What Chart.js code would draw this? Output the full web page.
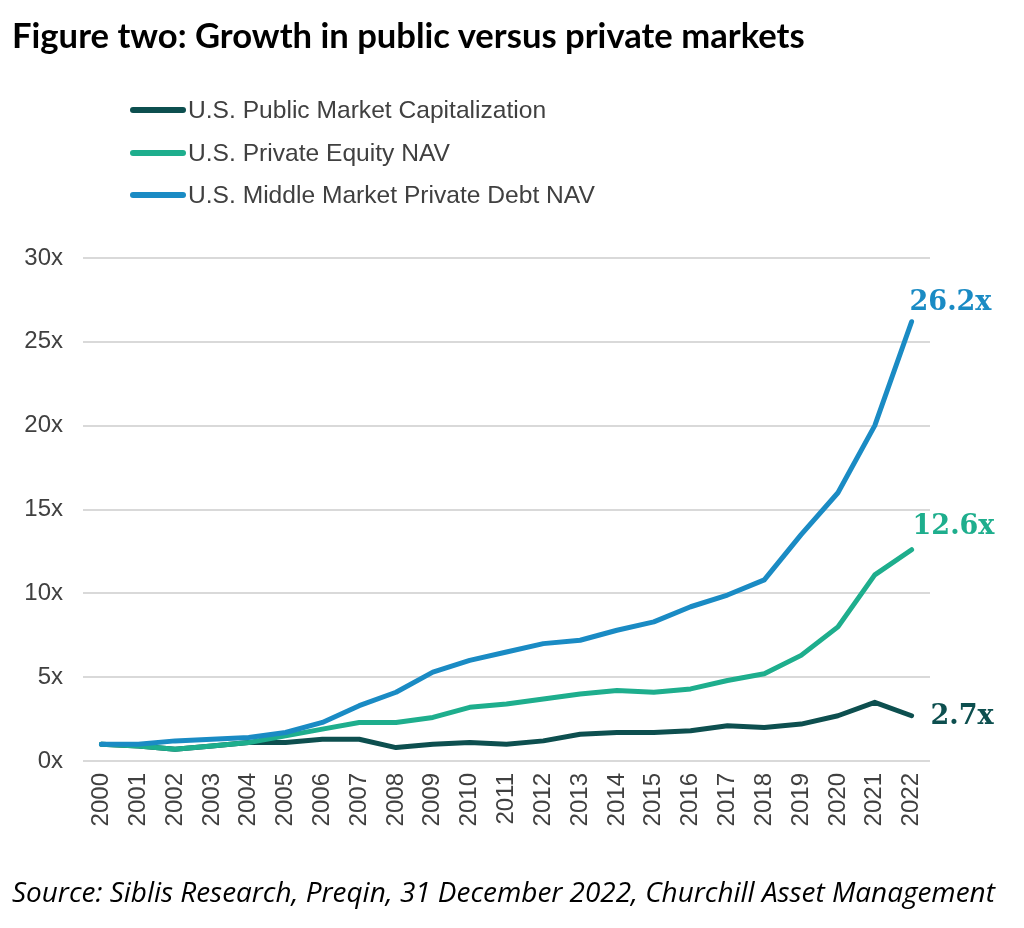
<!DOCTYPE html>
<html>
<head>
<meta charset="utf-8">
<script src="https://cdn.jsdelivr.net/npm/chart.js@4.4.0/dist/chart.umd.min.js"></script>
<style>
  html, body { margin: 0; padding: 0; background: #ffffff; }
  body { width: 1024px; height: 928px; position: relative; overflow: hidden; }
  #title { position: absolute; left: 12px; top: 18px; font-family: Lato, "Open Sans", sans-serif; font-weight: 700; font-size: 29px; color: #000; white-space: nowrap; line-height: 1; }
  #source { position: absolute; left: 12px; top: 878px; font-family: "Open Sans", Lato, sans-serif; font-style: italic; font-size: 25px; color: #000; white-space: nowrap; line-height: 1; }
  #legend { position: absolute; left: 130px; top: 96px; font-family: "Liberation Sans", Arial, sans-serif; font-size: 24.6px; color: #404040; }
  .item { position: relative; height: 42.5px; }
  .swatch { position: absolute; left: 0; top: 11px; width: 56px; height: 6px; border-radius: 3px; }
  .lbl { position: absolute; left: 58px; top: 0; white-space: nowrap; line-height: 28px; }
  #wrap { position: absolute; left: 0; top: 0; width: 1024px; height: 928px; }
</style>
</head>
<body>
<div id="wrap"><canvas id="c" width="1024" height="928"></canvas></div>
<div id="title">Figure two: Growth in public versus private markets</div>
<div id="legend"></div>
<div id="source">Source: Siblis Research, Preqin, 31 December 2022, Churchill Asset Management</div>
<script>
const years = ['2000','2001','2002','2003','2004','2005','2006','2007','2008','2009','2010','2011','2012','2013','2014','2015','2016','2017','2018','2019','2020','2021','2022'];
const seriesNames = ['U.S. Public Market Capitalization', 'U.S. Private Equity NAV', 'U.S. Middle Market Private Debt NAV'];
const publicMarket  = [1.0,0.9,0.7,0.9,1.1,1.1,1.3,1.3,0.8,1.0,1.1,1.0,1.2,1.6,1.7,1.7,1.8,2.1,2.0,2.2,2.7,3.5,2.7];
const privateEquity = [1.0,0.9,0.7,0.9,1.1,1.5,1.9,2.3,2.3,2.6,3.2,3.4,3.7,4.0,4.2,4.1,4.3,4.8,5.2,6.3,8.0,11.1,12.6];
const privateDebt   = [1.0,1.0,1.2,1.3,1.4,1.7,2.3,3.3,4.1,5.3,6.0,6.5,7.0,7.2,7.8,8.3,9.2,9.9,10.8,13.5,16.0,20.0,26.2];
const yTickValues = [0,5,10,15,20,25,30];
const endLabels = ['2.7x', '12.6x', '26.2x'];

const colors = ['#0d4f4f', '#1eae8d', '#1a8bc4'];

function fitWidth(id, target) {
  const el = document.getElementById(id);
  let fs = parseFloat(getComputedStyle(el).fontSize);
  const w = el.getBoundingClientRect().width;
  el.style.fontSize = (fs * target / w) + 'px';
}
fitWidth('title', 793);
fitWidth('source', 983);

const lg = document.getElementById('legend');
seriesNames.forEach((n, i) => {
  const d = document.createElement('div'); d.className = 'item';
  const s = document.createElement('div'); s.className = 'swatch'; s.style.background = colors[i];
  const t = document.createElement('div'); t.className = 'lbl'; t.textContent = n;
  d.appendChild(s); d.appendChild(t); lg.appendChild(d);
});

const endLabelOffsets = [ {dx: 19, dy: 1}, {dx: 1, dy: -23}, {dx: -2, dy: -19} ];

const endLabelPlugin = {
  id: 'endLabels',
  afterDatasetsDraw(chart) {
    const ctx = chart.ctx;
    ctx.save();
    ctx.font = 'bold 27px "DejaVu Serif", serif';
    ctx.textBaseline = 'middle';
    ctx.textAlign = 'left';
    chart.data.datasets.forEach((ds, i) => {
      const meta = chart.getDatasetMeta(i);
      const last = meta.data[meta.data.length - 1];
      const o = endLabelOffsets[ds.seriesIndex];
      ctx.fillStyle = ds.borderColor;
      ctx.fillText(endLabels[ds.seriesIndex], last.x + o.dx, last.y + o.dy);
    });
    ctx.restore();
  }
};

const seriesData = [publicMarket, privateEquity, privateDebt];
const datasets = seriesData.map((d, i) => ({
  label: seriesNames[i],
  data: d,
  seriesIndex: i,
  borderColor: colors[i],
  backgroundColor: colors[i],
  borderWidth: 5,
  pointRadius: 0,
  pointHoverRadius: 0,
  tension: 0,
  borderCapStyle: 'round',
  borderJoinStyle: 'round',
  order: 2 - i,
  fill: false
}));

new Chart(document.getElementById('c'), {
  type: 'line',
  data: { labels: years, datasets },
  plugins: [endLabelPlugin],
  options: {
    responsive: false,
    animation: false,
    events: [],
    layout: { padding: { top: 258, left: 0, right: 94, bottom: 0 } },
    plugins: { legend: { display: false }, tooltip: { enabled: false } },
    scales: {
      x: {
        offset: true,
        grid: { display: false, drawTicks: false },
        border: { display: false },
        ticks: { minRotation: 90, maxRotation: 90, autoSkip: false, padding: 12,
          color: '#404040', font: { family: '"Liberation Sans", Arial, sans-serif', size: 24 } },
        afterFit(scale) { scale.height = 928 - 761; }
      },
      y: {
        min: 0, max: 30,
        afterBuildTicks(scale) { scale.ticks = yTickValues.map(v => ({ value: v })); },
        grid: { color: '#d9d9d9', lineWidth: 2, drawTicks: false },
        border: { display: false },
        ticks: { padding: 20, color: '#404040',
          font: { family: '"Liberation Sans", Arial, sans-serif', size: 24 },
          callback: (v) => v + 'x' },
        afterFit(scale) { scale.width = 83; }
      }
    }
  }
});
</script>
</body>
</html>
